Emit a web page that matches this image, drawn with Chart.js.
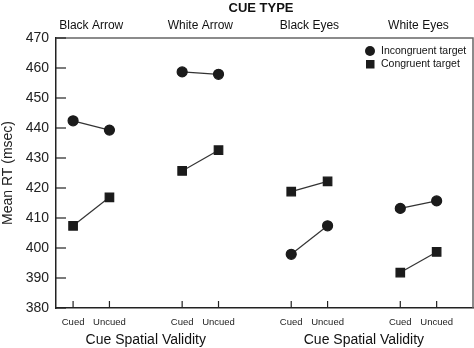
<!DOCTYPE html>
<html>
<head>
<meta charset="utf-8">
<script src="https://cdn.jsdelivr.net/npm/chart.js@4.4.1/dist/chart.umd.min.js"></script>
<style>
body{margin:0;background:#fff}
canvas{display:block}
</style>
</head>
<body>
<canvas id="chart" width="474" height="348"></canvas>
<script>
// values
let cueTypes=['Black Arrow','White Arrow','Black Eyes','White Eyes']
let validity=['Cued','Uncued']
let incongruent=[442.4,439.3,458.7,457.9,397.9,407.4,413.2,415.7]
let congruent=[407.4,416.9,425.7,432.6,418.8,422.2,391.8,398.7]
let yTicks=[380,390,400,410,420,430,440,450,460,470]

const FONT='"Liberation Sans", Arial, Helvetica, sans-serif'
const INK='#1b1b1b'

// each cue type gets a pair of x slots, with an empty slot between groups
function xPos(g,v){return g*3+v}

let xTickValues=[]
cueTypes.forEach((c,g)=>validity.forEach((v,i)=>xTickValues.push(xPos(g,i))))

function pairData(series,g){
return validity.map((v,i)=>({x:xPos(g,i),y:series[g*2+i]}))
}

let datasets=[]
cueTypes.forEach((c,g)=>{
datasets.push({
label:'Incongruent target',
data:pairData(incongruent,g),
showLine:true,
borderColor:'#333',
borderWidth:1.2,
pointStyle:'circle',
pointRadius:5,
pointBackgroundColor:INK,
pointBorderColor:INK
})
datasets.push({
label:'Congruent target',
data:pairData(congruent,g),
showLine:true,
borderColor:'#333',
borderWidth:1.2,
pointStyle:'rect',
pointRadius:6,
pointBackgroundColor:INK,
pointBorderColor:INK
})
})

const decor={
id:'decor',
afterDraw(chart){
const ctx=chart.ctx
const a=chart.chartArea
const xs=chart.scales.x
const ys=chart.scales.y
ctx.save()

// top and right frame
ctx.strokeStyle='#666'
ctx.lineWidth=1.5
ctx.beginPath()
ctx.moveTo(a.left,a.top)
ctx.lineTo(a.right,a.top)
ctx.lineTo(a.right,a.bottom)
ctx.stroke()

// inward tick marks
ctx.strokeStyle='#222'
ctx.lineWidth=1.2
yTicks.forEach(v=>{
let y=ys.getPixelForValue(v)
ctx.beginPath()
ctx.moveTo(a.left,y)
ctx.lineTo(a.left+10,y)
ctx.stroke()
})
xTickValues.forEach(v=>{
let x=xs.getPixelForValue(v)
ctx.beginPath()
ctx.moveTo(x,a.bottom)
ctx.lineTo(x,a.bottom-7)
ctx.stroke()
})

// headings
ctx.fillStyle='#111'
ctx.textAlign='center'
ctx.textBaseline='middle'
ctx.font='bold 13px '+FONT
ctx.fillText('CUE TYPE',261,8)
ctx.font='12px '+FONT
cueTypes.forEach((c,g)=>{
ctx.fillText(c,xs.getPixelForValue(xPos(g,0.5)),26)
})
ctx.font='14px '+FONT
;[0,1].forEach(h=>{
let mid=(xs.getPixelForValue(xPos(h*2,0))+xs.getPixelForValue(xPos(h*2+1,1)))/2
ctx.fillText('Cue Spatial Validity',mid,340)
})

// legend
ctx.fillStyle=INK
ctx.beginPath()
ctx.arc(370,51,5,0,Math.PI*2)
ctx.fill()
ctx.fillRect(366,60,8.5,8.5)
ctx.fillStyle='#111'
ctx.textAlign='left'
ctx.font='10.5px '+FONT
ctx.fillText('Incongruent target',381,51)
ctx.fillText('Congruent target',381,64)

ctx.restore()
}
}

new Chart(document.getElementById('chart'),{
type:'scatter',
data:{datasets:datasets},
options:{
responsive:false,
animation:false,
devicePixelRatio:1,
layout:{autoPadding:false,padding:{top:38,right:1,left:0,bottom:0}},
plugins:{legend:{display:false},tooltip:{enabled:false}},
scales:{
x:{
type:'linear',
min:-0.47,
max:11,
afterBuildTicks(s){s.ticks=xTickValues.map(v=>({value:v}))},
afterFit(s){s.height=40;s.paddingLeft=0;s.paddingRight=0},
grid:{display:true,drawOnChartArea:false,drawTicks:false},
border:{display:true,color:'#222',width:1.5},
ticks:{
padding:9,
color:'#222',
font:{family:FONT,size:9.5},
maxRotation:0,
autoSkip:false,
callback:v=>validity[v%3]
}
},
y:{
min:380,
max:470,
afterBuildTicks(s){s.ticks=yTicks.map(v=>({value:v}))},
afterFit(s){s.width=56;s.paddingTop=0;s.paddingBottom=0},
grid:{display:true,drawOnChartArea:false,drawTicks:false},
border:{display:true,color:'#222',width:1.5},
ticks:{padding:7,color:'#222',font:{family:FONT,size:14}},
title:{display:true,text:'Mean RT (msec)',color:'#222',font:{family:FONT,size:14},padding:0}
}
}
},
plugins:[decor]
})
</script>
</body>
</html>
